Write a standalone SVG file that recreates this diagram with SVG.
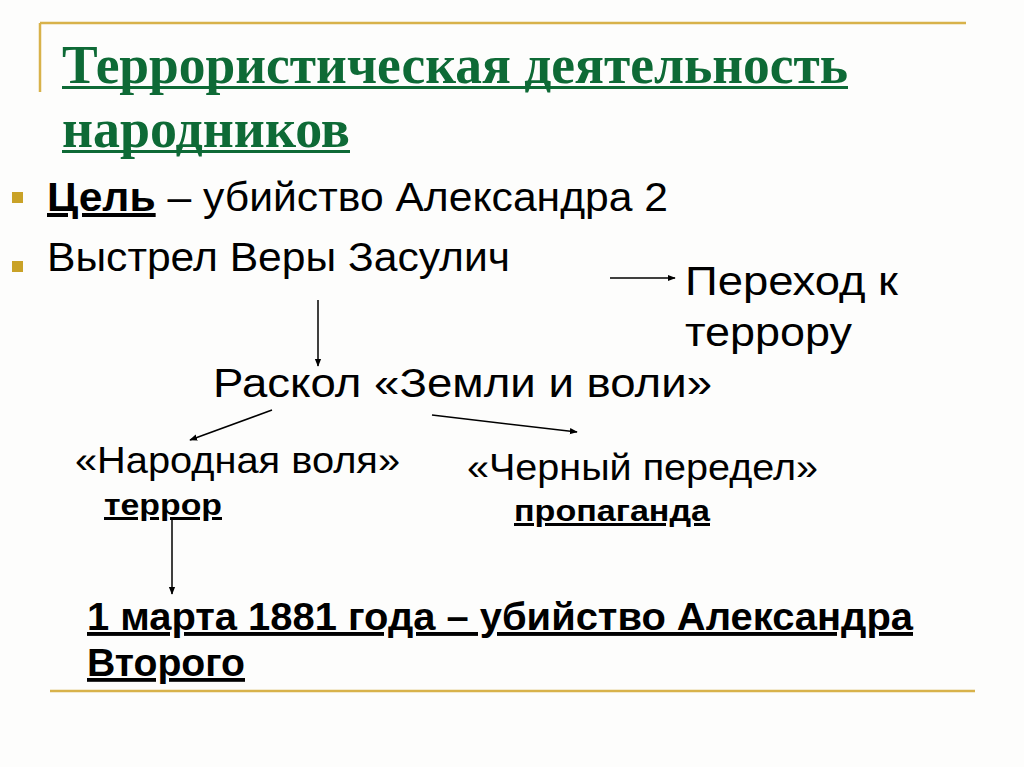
<svg xmlns="http://www.w3.org/2000/svg" width="1024" height="767" viewBox="0 0 1024 767">
<defs>
<style>
.t{font-family:"Liberation Sans",Arial,sans-serif;fill:#000}
.ti{font-family:"Liberation Serif","Times New Roman",serif;font-weight:bold;fill:#0E6A36}
.b{font-weight:bold}
.c{stroke:#000;stroke-width:1.5;fill:none}
.g{stroke:#D8B24A;stroke-width:2.5}
</style>
<marker id="ah" viewBox="0 0 10 10" refX="9" refY="5" markerWidth="8" markerHeight="8" markerUnits="userSpaceOnUse" orient="auto"><path d="M0,1 L10,5 L0,9 z" fill="#000"/></marker>
</defs>
<rect width="1024" height="767" fill="#FDFDFC"/>
<g id="frame">
<line class="g" x1="40" y1="23" x2="966" y2="23"/>
<line class="g" x1="40" y1="23" x2="40" y2="92"/>
<line class="g" x1="50" y1="691" x2="975" y2="691"/>
</g>
<g id="title">
<text class="ti" x="62" y="83" font-size="54" textLength="786" lengthAdjust="spacingAndGlyphs">Террористическая деятельность</text>
<rect x="62" y="86" width="786" height="3" fill="#0E6A36"/>
<text class="ti" x="62" y="147" font-size="54" textLength="288" lengthAdjust="spacingAndGlyphs">народников</text>
<rect x="62" y="150" width="288" height="3" fill="#0E6A36"/>
</g>
<g id="bullet1">
<rect x="12" y="192" width="11" height="11" fill="#C9A227"/>
<text class="t" x="47" y="211" font-size="40" textLength="621" lengthAdjust="spacingAndGlyphs"><tspan class="b" text-decoration="underline">Цель</tspan> – убийство Александра 2</text>
</g>
<g id="bullet2">
<rect x="12" y="261" width="11" height="11" fill="#C9A227"/>
<text class="t" x="47" y="271" font-size="40" textLength="463" lengthAdjust="spacingAndGlyphs">Выстрел Веры Засулич</text>
</g>
<g id="perehod">
<text class="t" x="685" y="295" font-size="40" textLength="213" lengthAdjust="spacingAndGlyphs">Переход к</text>
<text class="t" x="685" y="346" font-size="40" textLength="167" lengthAdjust="spacingAndGlyphs">террору</text>
</g>
<g id="raskol">
<text class="t" x="213" y="397" font-size="41" textLength="499" lengthAdjust="spacingAndGlyphs">Раскол «Земли и воли»</text>
</g>
<g id="narodnaya">
<text class="t" x="75" y="473" font-size="37" textLength="325" lengthAdjust="spacingAndGlyphs">«Народная воля»</text>
<text class="t b" x="104" y="515" font-size="30" textLength="118" lengthAdjust="spacingAndGlyphs" text-decoration="underline">террор</text>
</g>
<g id="cherny">
<text class="t" x="467" y="480" font-size="37" textLength="351" lengthAdjust="spacingAndGlyphs">«Черный передел»</text>
<text class="t b" x="514" y="521" font-size="30" textLength="196" lengthAdjust="spacingAndGlyphs" text-decoration="underline">пропаганда</text>
</g>
<g id="march">
<text class="t b" x="87" y="630" font-size="39" textLength="826" lengthAdjust="spacingAndGlyphs" text-decoration="underline">1 марта 1881 года – убийство Александра</text>
<text class="t b" x="87" y="676" font-size="38" textLength="158" lengthAdjust="spacingAndGlyphs" text-decoration="underline">Второго</text>
</g>
<g id="connectors">
<line class="c" x1="610" y1="278" x2="675" y2="278" marker-end="url(#ah)"/>
<line class="c" x1="318" y1="300" x2="318" y2="366" marker-end="url(#ah)"/>
<line class="c" x1="272" y1="410" x2="190" y2="440" marker-end="url(#ah)"/>
<line class="c" x1="432" y1="415" x2="577" y2="432" marker-end="url(#ah)"/>
<line class="c" x1="172" y1="520" x2="172" y2="594" marker-end="url(#ah)"/>
</g>
</svg>
